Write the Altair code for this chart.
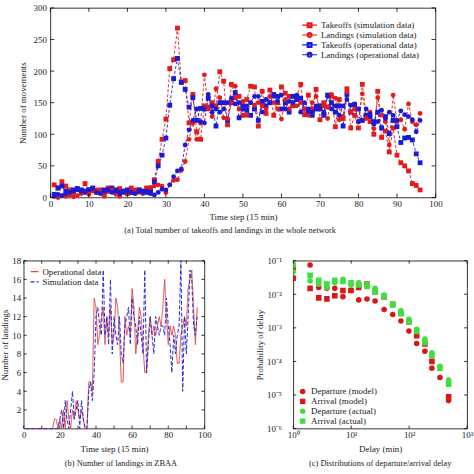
import altair as alt
import pandas as pd

FONT = "Liberation Serif"
INK = "#1a1a1a"
RED = "#e31b1b"
BLUE = "#1b1bd6"
RED_B = "#e04444"
BLUE_B = "#2a2ad0"
RED_C = "#dd1515"
GREEN = "#3ee03e"

# ---------------- (a) whole network, per 15-minute step ----------------
steps_a = list(range(1, 97))
takeoffs_sim = [20, 15, 25, 18, 12, 8, 14, 10, 22, 12, 14, 8, 12, 6, 15, 10, 8, 14, 10, 6,
                15, 9, 12, 10, 15, 14,
                28, 57, 92, 124, 204, 218, 268, 183, 185,
                118, 163, 104, 92, 145, 143, 150, 145, 199, 184, 115, 179, 158, 160, 130,
                155, 176, 175, 113, 168, 133, 170, 130, 150, 175, 165, 160, 145, 160, 179,
                131, 162, 140, 171, 123, 150, 143, 160, 112, 155, 125, 172, 110, 130, 110,
                179, 130, 120, 100, 168, 95, 105, 72, 110, 67, 55, 50, 42, 22, 19, 12]
landings_sim = [2, 0, 3, 2, 4, 1, 3, 6, 8, 5, 10, 12, 8, 2, 10, 12, 5, 2, 8, 6,
                10, 12, 8, 6, 14, 16,
                18, 20, 18, 8, 20, 27, 28, 43, 57,
                92, 118, 92, 118, 194, 140, 128, 172, 158, 126, 125, 150, 176, 140, 152,
                130, 150, 146, 150, 145, 140, 160, 150, 140, 124, 155, 140, 150, 145, 150,
                140, 130, 150, 160, 140, 145, 125, 163, 157, 123, 128, 167, 135, 140, 120,
                164, 125, 135, 109, 158, 130, 120, 83, 162, 120, 123, 108, 148, 120, 115, 133]
takeoffs_op = [5, 15, 18, 10, 8, 12, 14, 12, 10, 12, 15, 10, 8, 12, 10, 15, 12, 8, 10, 12,
               8, 10, 12, 10, 8, 10,
               25, 50, 67, 94, 146, 188, 220, 182, 171,
               143, 158, 122, 141, 140, 157, 145, 113, 150, 150, 122, 150, 166, 126, 145,
               138, 130, 140, 122, 152, 145, 150, 163, 160, 140, 150, 135, 160, 155, 157,
               140, 135, 130, 140, 145, 130, 162, 150, 135, 145, 113, 163, 135, 147, 140,
               122, 130, 128, 120, 135, 110, 128, 101, 122, 112, 87, 94, 95, 91, 69, 55]
landings_op = [2, 5, 3, 6, 8, 10, 12, 10, 8, 12, 14, 8, 6, 10, 12, 8, 10, 6, 8, 10,
               8, 6, 10, 8, 10, 6,
               4, 8, 13, 12, 20, 33, 42, 45, 83,
               107, 122, 140, 120, 118, 163, 135, 140, 135, 140, 150, 157, 148, 150, 140,
               145, 150, 160, 160, 135, 155, 150, 160, 152, 162, 140, 152, 150, 162, 135,
               150, 140, 135, 145, 140, 135, 160, 140, 145, 130, 145, 155, 146, 148, 120,
               122, 140, 132, 116, 120, 138, 125, 135, 130, 122, 137, 131, 128, 123, 104, 122]
series_a = ["Takeoffs (simulation data)", "Landings (simulation data)",
            "Takeoffs (operational data)", "Landings (operational data)"]
x_ticks_a = list(range(0, 101, 10))
y_ticks_a = list(range(0, 301, 50))

# ---------------- (b) landings at ZBAA ----------------
steps_b = list(range(1, 97))
landings_zbaa_op = [0] * 16 + [1, 1, 0, 1, 0, 2, 0, 3, 1, 0, 2, 1, 3, 2, 1, 2, 1, 0, 0,
                               5, 5, 4, 14, 13, 9, 10, 12, 13, 9, 12, 10, 13, 9, 10,
                               14, 13, 10, 5, 5, 12, 10, 11, 10, 15, 13, 8, 10, 13, 12,
                               9, 6, 6, 10, 12, 10, 11, 10, 11, 12, 11, 13, 16, 12, 9,
                               11, 10, 11, 10, 7, 7, 10, 11, 12, 11, 15, 16, 17, 13, 9, 13]
landings_zbaa_sim = [0] * 19 + [1, 2, 0, 3, 1, 0, 2, 4, 1, 2, 3, 0, 3, 1, 0, 0,
                                4, 5, 3, 6, 12, 13, 11, 10, 17, 10, 12, 9, 16, 8, 12,
                                10, 9, 12, 8, 7, 11, 12, 13, 9, 14, 12, 11, 9, 12, 10,
                                8, 17, 6, 9, 12, 10, 8, 12, 11, 10, 11, 11, 10, 14, 11,
                                9, 6, 10, 8, 10, 11, 18, 4, 12, 8, 12, 17, 16, 11, 10, 12]
series_b = ["Operational data", "Simulation data"]
x_labels_b = list(range(0, 101, 20))
x_ticks_b = list(range(0, 101, 10))
y_ticks_b = list(range(2, 19, 2))

# ---------------- (c) delay distributions ----------------
delay_bins = [1, 1.95, 2.75, 3.8, 5.2, 7.2, 9.9, 13.5, 18.7, 25.8, 37, 52, 72, 99, 135, 187, 247, 340, 480]
dep_model = [0.058, 0.074, 0.016, 0.015, 0.015, 0.0085, 0.013, 0.0068, 0.0072, 0.0063, 0.0035,
             0.0025, 0.0016, 0.0008, 0.00034, 0.0002, 0.000063, 0.000033, 0.0000068]
arr_model = [0.030, 0.015, 0.0078, 0.0073, 0.009, 0.013, 0.013, 0.016, 0.020, 0.012, 0.0085,
             0.005, 0.0027, 0.0015, 0.00058, 0.00033, 0.0001, None, 0.0000089]
dep_actual = [0.047, 0.025, 0.020, 0.016, 0.022, 0.028, 0.019, 0.022, 0.020, 0.015, 0.0095,
              0.0052, 0.0032, 0.0018, 0.00091, 0.00046, 0.00018, 0.000072, 0.000028]
arr_actual = [0.074, 0.037, 0.026, 0.020, 0.026, 0.024, 0.022, 0.019, 0.017, 0.012, 0.0085,
              0.0048, 0.0027, 0.0015, 0.00078, 0.00036, 0.00015, 0.000063, 0.000021]
series_c = ["Departure (model)", "Arrival (model)", "Departure (actual)", "Arrival (actual)"]
x_exp_c = [0, 1, 2, 3]
x_labels_c = ["10⁰", "10¹", "10²", "10³"]
y_exp_c = [-1, -2, -3, -4, -5, -6]
y_labels_c = ["10⁻¹", "10⁻²", "10⁻³", "10⁻⁴", "10⁻⁵", "10⁻⁶"]

# ---------------- tables ----------------
df_a = pd.DataFrame({
    "step": steps_a * 4,
    "count": takeoffs_sim + landings_sim + takeoffs_op + landings_op,
    "kind_a": sum([[s] * len(steps_a) for s in series_a], []),
})
df_b = pd.DataFrame({
    "step_b": steps_b * 2,
    "landings": landings_zbaa_op + landings_zbaa_sim,
    "kind_b": sum([[s] * len(steps_b) for s in series_b], []),
})
df_c = pd.DataFrame({
    "delay": delay_bins * 4,
    "prob": dep_model + arr_model + dep_actual + arr_actual,
    "kind_c": sum([[s] * len(delay_bins) for s in series_c], []),
}).dropna()

INDEP = dict(color="independent", shape="independent", strokeDash="independent")


def inward_ticks(xenc, xfield, xvals, yenc, yfield, yvals, w, h, length):
    """Short tick marks drawn inside the frame on all four sides."""
    tx = pd.DataFrame({xfield: xvals})
    ty = pd.DataFrame({yfield: yvals})
    style = dict(color="black", strokeWidth=0.8)
    return [
        alt.Chart(tx).mark_rule(**style).encode(x=xenc, y=alt.value(h), y2=alt.value(h - length)),
        alt.Chart(tx).mark_rule(**style).encode(x=xenc, y=alt.value(0), y2=alt.value(length)),
        alt.Chart(ty).mark_rule(**style).encode(y=yenc, x=alt.value(0), x2=alt.value(length)),
        alt.Chart(ty).mark_rule(**style).encode(y=yenc, x=alt.value(w), x2=alt.value(w - length)),
    ]


def exp_label_expr(exps, labels):
    expr = ""
    for e, lab in zip(exps, labels):
        expr += f"round(log(datum.value)/LN10) == {e} ? '{lab}' : "
    return expr + "''"


def caption(text, dx=0, offset=4):
    return alt.TitleParams(text=text, orient="bottom", anchor="middle", font=FONT,
                           fontSize=8.5, fontWeight="normal", color=INK, offset=offset, dx=dx)


# ---------------- panel (a) ----------------
W_A, H_A = 390, 192
xs_a = alt.Scale(domain=[0, 100], nice=False, zero=False)
ys_a = alt.Scale(domain=[0, 300], nice=False)
x_a = alt.X("step:Q", scale=xs_a,
            axis=alt.Axis(values=x_ticks_a, title="Time step (15 min)", labelPadding=2, titlePadding=4,
                          labelFlush=False))
y_a = alt.Y("count:Q", scale=ys_a,
            axis=alt.Axis(values=y_ticks_a, title="Number of movements", labelPadding=4, titlePadding=6))
colors_a = [RED, RED, BLUE, BLUE]
color_a = alt.Color("kind_a:N", scale=alt.Scale(domain=series_a, range=colors_a), legend=None)

# legend glyphs: a short line with a (densely outlined) marker in its middle
sq_path = ("M-2.15,0H2.15M-0.7,-0.7H0.7V0.7H-0.7Z"
           "M-0.4,-0.4H0.4V0.4H-0.4Z")
ci_path = ("M-2.15,0H2.15"
           "M-0.72,0A0.72,0.72 0 1,1 0.72,0A0.72,0.72 0 1,1 -0.72,0Z"
           "M-0.4,0A0.4,0.4 0 1,1 0.4,0A0.4,0.4 0 1,1 -0.4,0Z")
leg_a = alt.Legend(orient="none", legendX=258, legendY=13, title=None, symbolSize=49,
                   symbolStrokeWidth=1.1, labelOffset=7, rowPadding=-1.6, labelFontSize=9)

takeoff_names = [series_a[0], series_a[2]]
landing_names = [series_a[1], series_a[3]]

lines_a = alt.Chart(df_a).mark_line(strokeWidth=0.9, strokeDash=[3, 2]).encode(x=x_a, y=y_a, color=color_a)
squares_a = alt.Chart(df_a).transform_filter(
    alt.FieldOneOfPredicate(field="kind_a", oneOf=takeoff_names)
).mark_square(size=24, opacity=1).encode(x=x_a, y=y_a, color=color_a)
circles_a = alt.Chart(df_a).transform_filter(
    alt.FieldOneOfPredicate(field="kind_a", oneOf=landing_names)
).mark_circle(size=24, opacity=1).encode(x=x_a, y=y_a, color=color_a)
legend_layer_a = alt.Chart(df_a).transform_filter("false").mark_point(
    filled=False, opacity=1, strokeWidth=1.1
).encode(
    x=x_a, y=y_a,
    color=alt.Color("kind_a:N", scale=alt.Scale(domain=series_a, range=colors_a), legend=leg_a),
    shape=alt.Shape("kind_a:N", scale=alt.Scale(domain=series_a, range=[sq_path, ci_path, sq_path, ci_path]),
                    legend=leg_a))

panel_a = alt.layer(
    lines_a, squares_a, circles_a, legend_layer_a,
    *inward_ticks(x_a, "step", x_ticks_a, y_a, "count", y_ticks_a, W_A, H_A, 4),
).resolve_scale(color="independent", shape="independent").properties(
    width=W_A, height=H_A,
    title=caption("(a) Total number of takeoffs and landings in the whole network", dx=-13, offset=5))

spacer = alt.Chart(pd.DataFrame({"v": [0]})).mark_point(opacity=0).encode(
    x=alt.X("v:Q", axis=None), y=alt.Y("v:Q", axis=None)
).properties(width=1, height=1, view=alt.ViewBackground(strokeOpacity=0))

# ---------------- panel (b) ----------------
W_B, H_B = 183, 170
xs_b = alt.Scale(domain=[0, 100], nice=False, zero=False)
ys_b = alt.Scale(domain=[0, 18], nice=False)
x_b = alt.X("step_b:Q", scale=xs_b,
            axis=alt.Axis(values=x_labels_b, title="Time step (15 min)", labelPadding=2, titlePadding=5,
                          labelFlush=False))
y_b = alt.Y("landings:Q", scale=ys_b,
            axis=alt.Axis(values=y_ticks_b, title="Number of landings", labelPadding=3, titlePadding=2))
leg_b = alt.Legend(orient="none", legendX=6, legendY=6, title=None, symbolSize=64,
                   symbolStrokeWidth=1.2, labelOffset=3, rowPadding=0.5, labelFontSize=9)
lines_b = alt.Chart(df_b).mark_line(strokeWidth=1).encode(
    x=x_b, y=y_b,
    color=alt.Color("kind_b:N", scale=alt.Scale(domain=series_b, range=[RED_B, BLUE_B]), legend=leg_b),
    strokeDash=alt.StrokeDash("kind_b:N", scale=alt.Scale(domain=series_b, range=[[1, 0], [4, 2]]),
                              legend=leg_b))
panel_b = alt.layer(
    lines_b,
    *inward_ticks(x_b, "step_b", x_ticks_b, y_b, "landings", y_ticks_b, W_B, H_B, 3),
).properties(width=W_B, height=H_B, title=caption("(b) Number of landings in ZBAA", dx=7, offset=6))

# ---------------- panel (c) ----------------
W_C, H_C = 176, 170
xs_c = alt.Scale(type="log", domain=[1, 1000], nice=False)
ys_c = alt.Scale(type="log", domain=[1e-6, 1e-1], nice=False)
x_c = alt.X("delay:Q", scale=xs_c,
            axis=alt.Axis(values=[10 ** e for e in x_exp_c], labelExpr=exp_label_expr(x_exp_c, x_labels_c),
                          title="Delay (min)", labelPadding=2, titlePadding=5, labelFlush=False))
y_c = alt.Y("prob:Q", scale=ys_c,
            axis=alt.Axis(values=[10.0 ** e for e in y_exp_c], labelExpr=exp_label_expr(y_exp_c, y_labels_c),
                          title="Probability of delay", labelPadding=12, titlePadding=2))
leg_c = alt.Legend(orient="none", legendX=5, legendY=128, title=None, symbolSize=30,
                   labelOffset=4, rowPadding=0, labelFontSize=9)
points_c = alt.Chart(df_c).mark_point(filled=True, size=32, opacity=1, clip=True).encode(
    x=x_c, y=y_c,
    color=alt.Color("kind_c:N", scale=alt.Scale(domain=series_c, range=[RED_C, RED_C, GREEN, GREEN]), legend=leg_c),
    shape=alt.Shape("kind_c:N", scale=alt.Scale(domain=series_c, range=["circle", "square", "circle", "square"]),
                    legend=leg_c))
panel_c = alt.layer(
    points_c,
    *inward_ticks(x_c, "delay", [10 ** e for e in x_exp_c], y_c, "prob", [10.0 ** e for e in y_exp_c],
                  W_C, H_C, 3),
).properties(width=W_C, height=H_C, title=caption("(c) Distributions of departure/arrival delay", offset=6))

top_row = alt.hconcat(spacer, panel_a, spacing=-10).resolve_scale(**INDEP).resolve_legend(
    color="independent", shape="independent")
bottom_row = alt.hconcat(panel_b, panel_c, spacing=43).resolve_scale(**INDEP).resolve_legend(
    color="independent", shape="independent", strokeDash="independent")

chart = alt.vconcat(top_row, bottom_row, spacing=21).resolve_scale(**INDEP).resolve_legend(
    color="independent", shape="independent", strokeDash="independent",
).properties(
    padding={"left": 0, "top": 0, "right": 0, "bottom": 0},
    background="white",
).configure_view(
    stroke="black", strokeWidth=0.8
).configure_axis(
    domain=False, ticks=False, grid=False,
    labelFont=FONT, labelFontSize=9, labelColor=INK,
    titleFont=FONT, titleFontSize=9, titleFontWeight="normal", titleColor=INK,
).configure_legend(
    labelFont=FONT, labelColor=INK, padding=0,
)

chart.save("out.html", embed_options={"renderer": "svg", "actions": False})
